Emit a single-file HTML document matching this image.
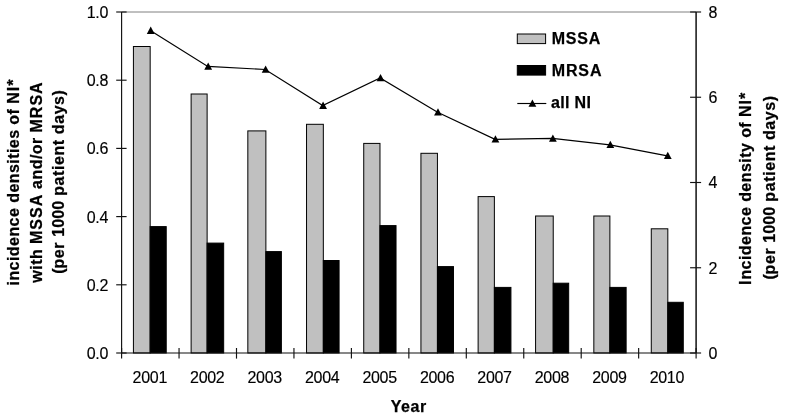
<!DOCTYPE html>
<html><head><meta charset="utf-8"><title>Chart</title>
<style>html,body{margin:0;padding:0;background:#fff}svg{display:block}text{font-family:"Liberation Sans",Arial,sans-serif;fill:#000;stroke:#000;stroke-width:0.15px}.b{font-weight:bold;stroke:#000;stroke-width:0.25px}</style></head><body>
<svg width="785" height="416" viewBox="0 0 785 416">
<rect width="785" height="416" fill="#fff"/>
<line x1="121.6" y1="12.0" x2="696.1" y2="12.0" stroke="#808080" stroke-width="1"/>
<rect x="133.42" y="46.50" width="16.75" height="306.50" fill="#c0c0c0" stroke="#000" stroke-width="1"/>
<rect x="150.17" y="226.60" width="16.05" height="126.40" fill="#000" stroke="#000" stroke-width="1"/>
<rect x="191.12" y="94.00" width="16.00" height="259.00" fill="#c0c0c0" stroke="#000" stroke-width="1"/>
<rect x="207.12" y="243.10" width="16.55" height="109.90" fill="#000" stroke="#000" stroke-width="1"/>
<rect x="247.83" y="130.90" width="18.05" height="222.10" fill="#c0c0c0" stroke="#000" stroke-width="1"/>
<rect x="265.88" y="251.60" width="15.50" height="101.40" fill="#000" stroke="#000" stroke-width="1"/>
<rect x="306.53" y="124.30" width="16.80" height="228.70" fill="#c0c0c0" stroke="#000" stroke-width="1"/>
<rect x="323.33" y="260.50" width="15.75" height="92.50" fill="#000" stroke="#000" stroke-width="1"/>
<rect x="363.73" y="143.40" width="16.25" height="209.60" fill="#c0c0c0" stroke="#000" stroke-width="1"/>
<rect x="379.98" y="225.60" width="16.05" height="127.40" fill="#000" stroke="#000" stroke-width="1"/>
<rect x="420.93" y="153.30" width="16.50" height="199.70" fill="#c0c0c0" stroke="#000" stroke-width="1"/>
<rect x="437.43" y="266.60" width="16.05" height="86.40" fill="#000" stroke="#000" stroke-width="1"/>
<rect x="478.12" y="196.60" width="16.25" height="156.40" fill="#c0c0c0" stroke="#000" stroke-width="1"/>
<rect x="494.38" y="287.40" width="16.55" height="65.60" fill="#000" stroke="#000" stroke-width="1"/>
<rect x="535.58" y="216.00" width="17.65" height="137.00" fill="#c0c0c0" stroke="#000" stroke-width="1"/>
<rect x="553.23" y="283.20" width="15.45" height="69.80" fill="#000" stroke="#000" stroke-width="1"/>
<rect x="593.83" y="216.00" width="16.05" height="137.00" fill="#c0c0c0" stroke="#000" stroke-width="1"/>
<rect x="609.88" y="287.40" width="16.25" height="65.60" fill="#000" stroke="#000" stroke-width="1"/>
<rect x="651.27" y="228.80" width="16.55" height="124.20" fill="#c0c0c0" stroke="#000" stroke-width="1"/>
<rect x="667.83" y="302.30" width="15.45" height="50.70" fill="#000" stroke="#000" stroke-width="1"/>
<g stroke="#111" stroke-width="1.15" fill="none">
<line x1="121.6" y1="12.0" x2="121.6" y2="353.0"/>
<line x1="696.1" y1="12.0" x2="696.1" y2="353.0" stroke-width="1.5"/>
<line x1="121.6" y1="353.0" x2="696.1" y2="353.0"/>
<line x1="116.19999999999999" y1="353.00" x2="126.6" y2="353.00"/>
<line x1="116.19999999999999" y1="284.80" x2="126.6" y2="284.80"/>
<line x1="116.19999999999999" y1="216.60" x2="126.6" y2="216.60"/>
<line x1="116.19999999999999" y1="148.40" x2="126.6" y2="148.40"/>
<line x1="116.19999999999999" y1="80.20" x2="126.6" y2="80.20"/>
<line x1="116.19999999999999" y1="12.00" x2="126.6" y2="12.00"/>
<line x1="690.1" y1="353.00" x2="701.1" y2="353.00"/>
<line x1="690.1" y1="267.75" x2="701.1" y2="267.75"/>
<line x1="690.1" y1="182.50" x2="701.1" y2="182.50"/>
<line x1="690.1" y1="97.25" x2="701.1" y2="97.25"/>
<line x1="690.1" y1="12.00" x2="701.1" y2="12.00"/>
<line x1="121.60" y1="348.0" x2="121.60" y2="358.6"/>
<line x1="179.05" y1="348.0" x2="179.05" y2="358.6"/>
<line x1="236.50" y1="348.0" x2="236.50" y2="358.6"/>
<line x1="293.95" y1="348.0" x2="293.95" y2="358.6"/>
<line x1="351.40" y1="348.0" x2="351.40" y2="358.6"/>
<line x1="408.85" y1="348.0" x2="408.85" y2="358.6"/>
<line x1="466.30" y1="348.0" x2="466.30" y2="358.6"/>
<line x1="523.75" y1="348.0" x2="523.75" y2="358.6"/>
<line x1="581.20" y1="348.0" x2="581.20" y2="358.6"/>
<line x1="638.65" y1="348.0" x2="638.65" y2="358.6"/>
<line x1="696.10" y1="348.0" x2="696.10" y2="358.6"/>
</g>
<polyline points="150.32,30.60 207.78,66.40 265.23,69.50 322.68,105.60 380.12,77.90 437.58,112.30 495.02,139.30 552.48,138.40 609.93,144.80 667.38,155.80" fill="none" stroke="#000" stroke-width="1.2"/>
<polygon points="150.72,26.60 146.82,33.90 154.62,33.90" fill="#000"/>
<polygon points="208.18,62.40 204.28,69.70 212.08,69.70" fill="#000"/>
<polygon points="265.62,65.50 261.73,72.80 269.53,72.80" fill="#000"/>
<polygon points="323.07,101.60 319.18,108.90 326.98,108.90" fill="#000"/>
<polygon points="380.52,73.90 376.62,81.20 384.43,81.20" fill="#000"/>
<polygon points="437.98,108.30 434.08,115.60 441.88,115.60" fill="#000"/>
<polygon points="495.42,135.30 491.52,142.60 499.32,142.60" fill="#000"/>
<polygon points="552.88,134.40 548.98,141.70 556.77,141.70" fill="#000"/>
<polygon points="610.33,140.80 606.43,148.10 614.23,148.10" fill="#000"/>
<polygon points="667.77,151.80 663.88,159.10 671.67,159.10" fill="#000"/>
<text x="108.3" y="359.00" font-size="16" letter-spacing="-0.2" text-anchor="end">0.0</text>
<text x="108.3" y="290.80" font-size="16" letter-spacing="-0.2" text-anchor="end">0.2</text>
<text x="108.3" y="222.60" font-size="16" letter-spacing="-0.2" text-anchor="end">0.4</text>
<text x="108.3" y="154.40" font-size="16" letter-spacing="-0.2" text-anchor="end">0.6</text>
<text x="108.3" y="86.20" font-size="16" letter-spacing="-0.2" text-anchor="end">0.8</text>
<text x="108.3" y="18.00" font-size="16" letter-spacing="-0.2" text-anchor="end">1.0</text>
<text x="708.6" y="358.80" font-size="16">0</text>
<text x="708.6" y="273.55" font-size="16">2</text>
<text x="708.6" y="188.30" font-size="16">4</text>
<text x="708.6" y="103.05" font-size="16">6</text>
<text x="708.6" y="17.80" font-size="16">8</text>
<text x="149.82" y="383" font-size="16" letter-spacing="-0.3" text-anchor="middle">2001</text>
<text x="207.28" y="383" font-size="16" letter-spacing="-0.3" text-anchor="middle">2002</text>
<text x="264.73" y="383" font-size="16" letter-spacing="-0.3" text-anchor="middle">2003</text>
<text x="322.18" y="383" font-size="16" letter-spacing="-0.3" text-anchor="middle">2004</text>
<text x="379.62" y="383" font-size="16" letter-spacing="-0.3" text-anchor="middle">2005</text>
<text x="437.08" y="383" font-size="16" letter-spacing="-0.3" text-anchor="middle">2006</text>
<text x="494.52" y="383" font-size="16" letter-spacing="-0.3" text-anchor="middle">2007</text>
<text x="551.98" y="383" font-size="16" letter-spacing="-0.3" text-anchor="middle">2008</text>
<text x="609.43" y="383" font-size="16" letter-spacing="-0.3" text-anchor="middle">2009</text>
<text x="666.88" y="383" font-size="16" letter-spacing="-0.3" text-anchor="middle">2010</text>
<text class="b" x="408.8" y="411.9" font-size="16" letter-spacing="0.55" text-anchor="middle">Year</text>
<text class="b" transform="translate(18.8,182.0) rotate(-90)" font-size="16" text-anchor="middle"><tspan letter-spacing="0.44">incidence densities of </tspan><tspan letter-spacing="1.0">NI*</tspan></text>
<text class="b" transform="translate(42.2,182.0) rotate(-90)" font-size="16" text-anchor="middle"><tspan letter-spacing="0.44">with </tspan><tspan letter-spacing="1.0">MSSA</tspan><tspan letter-spacing="0.44"> and/or </tspan><tspan letter-spacing="1.0">MRSA</tspan></text>
<text class="b" transform="translate(64.1,181.6) rotate(-90)" font-size="16" text-anchor="middle"><tspan letter-spacing="-0.2">(</tspan><tspan letter-spacing="0.59">per </tspan><tspan letter-spacing="0.1">1000</tspan><tspan letter-spacing="0.59"> patient days)</tspan></text>
<text class="b" transform="translate(751.4,188.4) rotate(-90)" font-size="16" text-anchor="middle"><tspan letter-spacing="1.0">I</tspan><tspan letter-spacing="0.44">ncidence density of </tspan><tspan letter-spacing="1.0">NI*</tspan></text>
<text class="b" transform="translate(774.6,187.4) rotate(-90)" font-size="16" text-anchor="middle"><tspan letter-spacing="-0.2">(</tspan><tspan letter-spacing="0.59">per </tspan><tspan letter-spacing="0.1">1000</tspan><tspan letter-spacing="0.59"> patient days)</tspan></text>
<rect x="517.3" y="34" width="28.3" height="9.6" fill="#c0c0c0" stroke="#000" stroke-width="1"/>
<rect x="517.3" y="65.5" width="28.3" height="9.6" fill="#000" stroke="#000" stroke-width="1"/>
<line x1="517.3" y1="103.5" x2="546.3" y2="103.5" stroke="#000" stroke-width="1.15"/>
<polygon points="532.40,99.50 528.50,106.80 536.30,106.80" fill="#000"/>
<text class="b" x="551.7" y="44.1" font-size="16" letter-spacing="0.83">MSSA</text>
<text class="b" x="551.7" y="75.7" font-size="16" letter-spacing="0.9">MRSA</text>
<text class="b" x="551" y="108" font-size="16" letter-spacing="0.32">all NI</text>
</svg></body></html>
